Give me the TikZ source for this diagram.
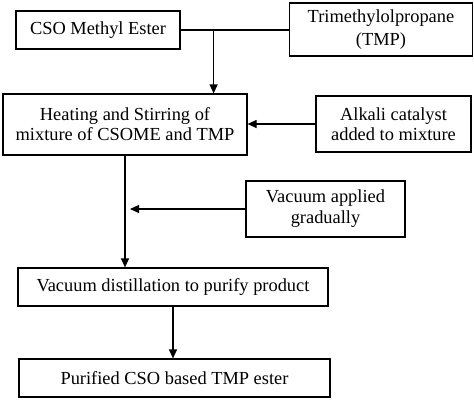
\documentclass[tikz,border=0pt]{standalone}
\usepackage{fontspec}
\setmainfont{Liberation Serif}
\usepackage{tikz}
\usetikzlibrary{calc,backgrounds}
\usetikzlibrary{arrows.meta}
\tikzstyle{flow}=[
  >={Triangle[length=9pt,width=8pt]}, x=1pt, y=-1pt, line width=1.2pt,
  font=\fontsize{18.4}{21}\selectfont
]
\tikzstyle{stepbox}=[
  draw, rectangle, line width=1.2pt, inner sep=2pt, align=center
]
\tikzstyle{feed}=[
  ->, line width=1.2pt
]

\begin{document}
\begin{tikzpicture}[flow]
        \useasboundingbox (0, 0) rectangle (474, 400);
        \node (cso) at (98, 30) [stepbox, minimum width=164pt, minimum height=38pt] {CSO Methyl Ester};
        \node (tmp) at (381, 29.5) [stepbox, minimum width=183pt, minimum height=53pt, font=\fontsize{18.4}{23}\selectfont] {Trimethylolpropane\\(TMP)};
        \node (heat) at (125, 124.5) [stepbox, minimum width=244pt, minimum height=61pt, font=\fontsize{18.4}{20}\selectfont] {Heating and Stirring of\\mixture of CSOME and TMP};
        \node (alkali) at (393.5, 124) [stepbox, minimum width=155pt, minimum height=56pt, font=\fontsize{18.4}{20}\selectfont] {Alkali catalyst\\added to mixture};
        \node (vac) at (325.5, 209) [stepbox, minimum width=159pt, minimum height=56pt] {Vacuum applied\\gradually};
        \node (dist) at (173, 287) [stepbox, minimum width=310pt, minimum height=38pt] {Vacuum distillation to purify product};
        \node (prod) at (174.5, 378) [stepbox, minimum width=311pt, minimum height=38pt] {Purified CSO based TMP ester};

        % feed lines
        \coordinate (mix) at ($(cso.east) + (33, 0)$);
        \coordinate (vin) at ($(heat.south |- vac.west) + (5, 0)$);
        \draw (cso.east) -- (cso.east -| tmp.west);
        \draw [feed] (mix) -- (mix |- heat.north);
        \draw [feed] (alkali.west) -- (alkali.west -| heat.east);
        \draw [feed] (heat.south) -- (heat.south |- dist.north);
        \draw [feed] (vac.west) -- (vin);
        \draw [feed] (dist.south) -- (dist.south |- prod.north);
\end{tikzpicture}
\end{document}
